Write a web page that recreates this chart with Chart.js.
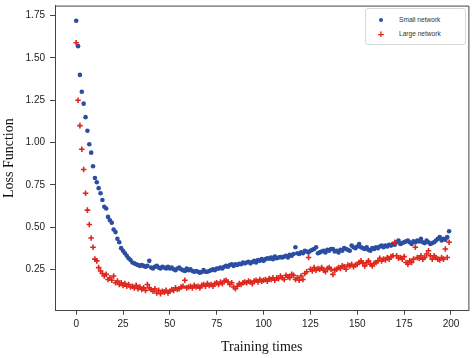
<!DOCTYPE html>
<html>
<head>
<meta charset="utf-8">
<script src="https://cdn.jsdelivr.net/npm/chart.js@4.4.1/dist/chart.umd.min.js"></script>
<style>
  html, body { margin: 0; padding: 0; background: #fff; }
  #wrap { position: relative; width: 474px; height: 358px; }
  #legend {
    position: absolute; left: 365px; top: 8px; width: 101px; height: 37px;
    border: 1px solid #d8d8d8; border-radius: 3px; background: #fff;
    font-family: "Liberation Sans", Arial, sans-serif; font-size: 6.6px; color: #333;
    box-sizing: border-box;
  }
  .row { position: absolute; left: 0; height: 10px; line-height: 10px; }
  .mk { position: absolute; left: 10px; width: 10px; text-align: center; }
  .tx { position: absolute; left: 33px; white-space: nowrap; }
</style>
</head>
<body>
<div id="wrap">
  <canvas id="c" width="474" height="358"></canvas>
  <div id="legend">
    <div class="row" style="top:6px;"><span class="mk"><span style="display:inline-block;width:4px;height:4px;border-radius:50%;background:#2b4ea3;vertical-align:middle;"></span></span><span class="tx">Small network</span></div>
    <div class="row" style="top:20px;"><span class="mk" style="color:#e0261c;font-size:11px;font-weight:bold;">+</span><span class="tx">Large network</span></div>
  </div>
</div>
<script>
const trainingTimes = Array.from({length: 200}, (_, i) => i);

const smallNetwork = [
  1.72,1.57,1.40,1.30,1.23,1.15,1.07,0.99,0.94,0.86,
  0.79,0.765,0.73,0.70,0.66,0.62,0.61,0.56,0.54,0.525,
  0.485,0.47,0.43,0.41,0.375,0.36,0.345,0.33,0.315,0.305,
  0.29,0.285,0.28,0.275,0.27,0.275,0.27,0.265,0.27,0.30,
  0.26,0.255,0.265,0.27,0.26,0.255,0.265,0.26,0.255,0.264,
  0.255,0.26,0.25,0.245,0.255,0.26,0.25,0.245,0.24,0.254,
  0.245,0.25,0.24,0.235,0.24,0.235,0.23,0.234,0.245,0.235,
  0.235,0.24,0.245,0.25,0.245,0.255,0.254,0.26,0.255,0.265,
  0.27,0.265,0.275,0.28,0.27,0.28,0.275,0.283,0.28,0.29,
  0.285,0.29,0.295,0.285,0.293,0.30,0.29,0.305,0.30,0.31,
  0.30,0.31,0.315,0.313,0.32,0.31,0.325,0.315,0.32,0.322,
  0.32,0.325,0.33,0.32,0.335,0.33,0.34,0.38,0.345,0.34,
  0.35,0.345,0.36,0.355,0.35,0.36,0.365,0.37,0.38,0.345,
  0.35,0.355,0.36,0.35,0.365,0.36,0.37,0.37,0.355,0.36,
  0.35,0.365,0.36,0.375,0.37,0.365,0.36,0.39,0.38,0.375,
  0.385,0.40,0.38,0.375,0.37,0.38,0.365,0.36,0.375,0.37,
  0.38,0.375,0.385,0.39,0.38,0.39,0.385,0.395,0.39,0.40,
  0.395,0.41,0.42,0.40,0.405,0.41,0.415,0.42,0.41,0.40,
  0.415,0.41,0.42,0.415,0.43,0.41,0.405,0.42,0.41,0.40,
  0.405,0.41,0.42,0.43,0.44,0.42,0.43,0.425,0.44,0.475
];

const largeNetwork = [
  1.59,1.25,1.10,0.96,0.84,0.70,0.60,0.515,0.435,0.38,
  0.31,0.30,0.26,0.24,0.225,0.21,0.22,0.19,0.20,0.185,
  0.21,0.17,0.18,0.16,0.17,0.155,0.165,0.15,0.16,0.145,
  0.15,0.14,0.155,0.135,0.145,0.13,0.14,0.125,0.16,0.14,
  0.13,0.12,0.135,0.11,0.125,0.105,0.12,0.115,0.125,0.11,
  0.12,0.13,0.125,0.14,0.13,0.135,0.145,0.15,0.185,0.14,
  0.145,0.15,0.14,0.155,0.145,0.15,0.14,0.155,0.16,0.15,
  0.165,0.155,0.16,0.15,0.165,0.17,0.16,0.175,0.165,0.18,
  0.185,0.175,0.16,0.17,0.145,0.135,0.15,0.165,0.16,0.17,
  0.175,0.17,0.18,0.175,0.165,0.18,0.185,0.175,0.19,0.18,
  0.185,0.19,0.18,0.195,0.19,0.20,0.185,0.20,0.195,0.21,
  0.20,0.19,0.215,0.205,0.20,0.22,0.215,0.19,0.20,0.185,
  0.21,0.19,0.225,0.235,0.32,0.25,0.24,0.26,0.245,0.255,
  0.25,0.26,0.245,0.235,0.255,0.26,0.25,0.22,0.245,0.25,
  0.26,0.255,0.27,0.265,0.25,0.275,0.27,0.28,0.265,0.275,
  0.28,0.29,0.30,0.285,0.27,0.29,0.30,0.28,0.27,0.285,
  0.29,0.30,0.315,0.30,0.31,0.305,0.32,0.31,0.325,0.33,
  0.41,0.33,0.315,0.32,0.31,0.325,0.29,0.28,0.30,0.29,
  0.31,0.38,0.32,0.315,0.33,0.31,0.32,0.34,0.36,0.33,
  0.31,0.33,0.32,0.31,0.305,0.32,0.31,0.37,0.32,0.41
];

const xTickStep = 25;
const yTickStep = 0.25;

const toPoints = arr => trainingTimes.map((t, i) => ({x: t, y: arr[i]}));

const framePlugin = {
  id: 'frame',
  afterDraw(chart) {
    const {ctx, chartArea: a} = chart;
    ctx.save();
    ctx.strokeStyle = '#444';
    ctx.lineWidth = 1;
    ctx.beginPath();
    ctx.moveTo(a.left, a.top + 0.5);
    ctx.lineTo(a.right + 0.5, a.top + 0.5);
    ctx.lineTo(a.right + 0.5, a.bottom);
    ctx.stroke();
    ctx.restore();
  }
};

new Chart(document.getElementById('c'), {
  type: 'scatter',
  data: {
    datasets: [
      {
        label: 'Small network',
        data: toPoints(smallNetwork),
        pointStyle: 'circle',
        pointRadius: 2.3,
        backgroundColor: '#2b4ea3',
        borderColor: '#2b4ea3',
        borderWidth: 0,
        order: 2
      },
      {
        label: 'Large network',
        data: toPoints(largeNetwork),
        pointStyle: 'cross',
        pointRadius: 2.8,
        backgroundColor: '#e0261c',
        borderColor: '#e0261c',
        borderWidth: 1.6,
        order: 1
      }
    ]
  },
  options: {
    responsive: false,
    animation: false,
    devicePixelRatio: 1,
    layout: { padding: { left: 0, top: 3, right: 4.5, bottom: 0 } },
    plugins: { legend: { display: false }, tooltip: { enabled: false } },
    scales: {
      x: {
        type: 'linear',
        min: -11.3,
        max: 209.3,
        afterFit(s) { s.height = 47.3; s.paddingLeft = 0; s.paddingRight = 0; },
        grid: { drawOnChartArea: false, drawTicks: true, tickLength: 4, color: '#444' },
        border: { display: true, color: '#444', width: 1 },
        ticks: {
          stepSize: xTickStep, includeBounds: false, autoSkip: false, maxRotation: 0,
          padding: 4, color: '#222',
          font: { family: '"Liberation Sans", Arial, sans-serif', size: 10 }
        },
        title: {
          display: true, text: 'Training times', color: '#111',
          font: { family: '"Liberation Serif", "Times New Roman", serif', size: 14 },
          padding: { top: 0, bottom: 2 }
        }
      },
      y: {
        type: 'linear',
        min: 0.005,
        max: 1.81,
        afterFit(s) { s.width = 55; s.paddingTop = 0; s.paddingBottom = 0; },
        grid: { drawOnChartArea: false, drawTicks: true, tickLength: 5, color: '#444' },
        border: { display: true, color: '#444', width: 1 },
        ticks: {
          stepSize: yTickStep, includeBounds: false, autoSkip: false,
          padding: 5, color: '#222',
          font: { family: '"Liberation Sans", Arial, sans-serif', size: 10 },
          callback: v => v.toFixed(2)
        },
        title: {
          display: true, text: 'Loss Function', color: '#111',
          font: { family: '"Liberation Serif", "Times New Roman", serif', size: 14 },
          padding: { top: 1, bottom: 0 }
        }
      }
    }
  },
  plugins: [framePlugin]
});
</script>
</body>
</html>
